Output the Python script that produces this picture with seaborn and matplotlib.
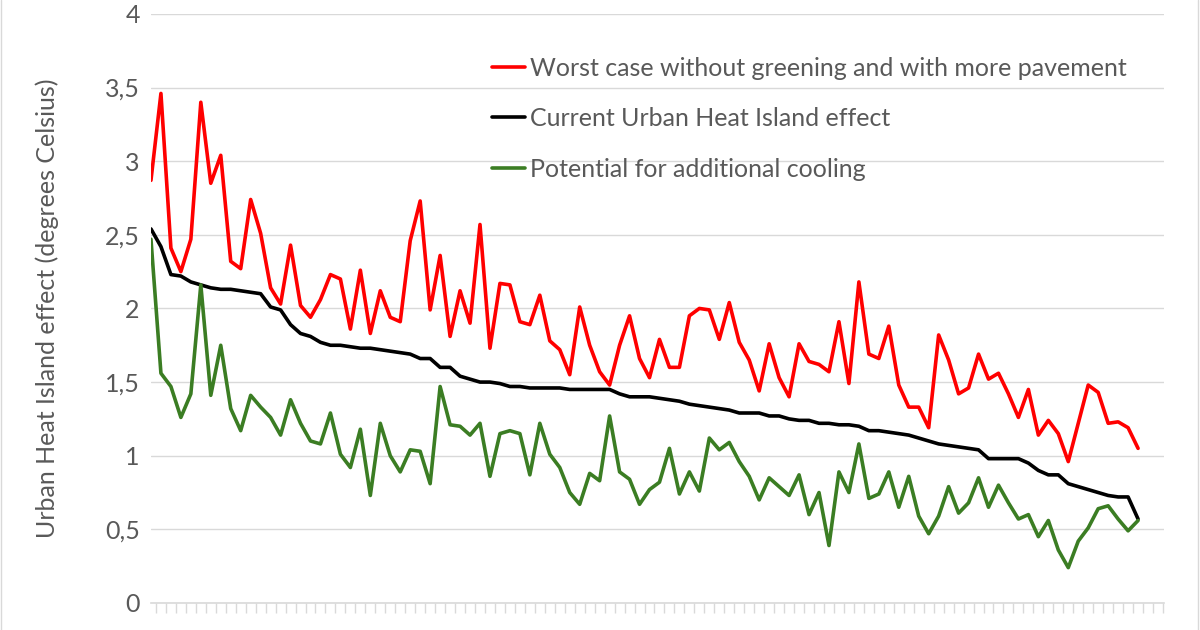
import numpy as np
import pandas as pd
import seaborn as sns
import matplotlib.pyplot as plt
from matplotlib.lines import Line2D

# waarden per wijk (100 stuks)
worst_case = [2.87, 3.46, 2.41, 2.25, 2.47, 3.40, 2.85, 3.04, 2.32, 2.27,
              2.74, 2.51, 2.14, 2.03, 2.43, 2.02, 1.94, 2.06, 2.23, 2.20,
              1.86, 2.26, 1.83, 2.12, 1.94, 1.91, 2.46, 2.73, 1.99, 2.36,
              1.81, 2.12, 1.90, 2.57, 1.73, 2.17, 2.16, 1.91, 1.89, 2.09,
              1.78, 1.72, 1.55, 2.01, 1.75, 1.57, 1.48, 1.75, 1.95, 1.66,
              1.53, 1.79, 1.60, 1.60, 1.95, 2.00, 1.99, 1.79, 2.04, 1.77,
              1.65, 1.44, 1.76, 1.53, 1.40, 1.76, 1.64, 1.62, 1.57, 1.91,
              1.49, 2.18, 1.69, 1.66, 1.88, 1.48, 1.33, 1.33, 1.19, 1.82,
              1.65, 1.42, 1.46, 1.69, 1.52, 1.56, 1.42, 1.26, 1.45, 1.14,
              1.24, 1.15, 0.96, 1.22, 1.48, 1.43, 1.22, 1.23, 1.19, 1.05]

current_uhi = [2.54, 2.42, 2.23, 2.22, 2.18, 2.16, 2.14, 2.13, 2.13, 2.12,
               2.11, 2.10, 2.01, 1.99, 1.89, 1.83, 1.81, 1.77, 1.75, 1.75,
               1.74, 1.73, 1.73, 1.72, 1.71, 1.70, 1.69, 1.66, 1.66, 1.60,
               1.60, 1.54, 1.52, 1.50, 1.50, 1.49, 1.47, 1.47, 1.46, 1.46,
               1.46, 1.46, 1.45, 1.45, 1.45, 1.45, 1.45, 1.42, 1.40, 1.40,
               1.40, 1.39, 1.38, 1.37, 1.35, 1.34, 1.33, 1.32, 1.31, 1.29,
               1.29, 1.29, 1.27, 1.27, 1.25, 1.24, 1.24, 1.22, 1.22, 1.21,
               1.21, 1.20, 1.17, 1.17, 1.16, 1.15, 1.14, 1.12, 1.10, 1.08,
               1.07, 1.06, 1.05, 1.04, 0.98, 0.98, 0.98, 0.98, 0.95, 0.90,
               0.87, 0.87, 0.81, 0.79, 0.77, 0.75, 0.73, 0.72, 0.72, 0.57]

extra_cooling = [2.47, 1.56, 1.47, 1.26, 1.42, 2.16, 1.41, 1.75, 1.32, 1.17,
                 1.41, 1.33, 1.26, 1.14, 1.38, 1.22, 1.10, 1.08, 1.29, 1.01,
                 0.92, 1.18, 0.73, 1.22, 1.00, 0.89, 1.04, 1.03, 0.81, 1.47,
                 1.21, 1.20, 1.14, 1.22, 0.86, 1.15, 1.17, 1.15, 0.87, 1.22,
                 1.01, 0.92, 0.75, 0.67, 0.88, 0.83, 1.27, 0.89, 0.84, 0.67,
                 0.77, 0.82, 1.05, 0.74, 0.89, 0.76, 1.12, 1.04, 1.09, 0.96,
                 0.86, 0.70, 0.85, 0.79, 0.73, 0.87, 0.60, 0.75, 0.39, 0.89,
                 0.75, 1.08, 0.71, 0.74, 0.89, 0.65, 0.86, 0.59, 0.47, 0.59,
                 0.79, 0.61, 0.68, 0.85, 0.65, 0.80, 0.68, 0.57, 0.60, 0.45,
                 0.56, 0.36, 0.24, 0.42, 0.51, 0.64, 0.66, 0.57, 0.49, 0.56]

series_names = ["Worst case without greening and with more pavement",
                "Current Urban Heat Island effect",
                "Potential for additional cooling"]
series_colors = ["#FF0000", "#000000", "#3B7D23"]
y_ticks = [0, 0.5, 1, 1.5, 2, 2.5, 3, 3.5, 4]
y_labels = ["0", "0,5", "1", "1,5", "2", "2,5", "3", "3,5", "4"]
x_labels = ["1", "11", "21", "31", "41", "51", "61", "71", "81", "91", "101"]

n = len(worst_case)
wijk = np.arange(1, n + 1)
df = pd.DataFrame({
    "wijk": np.tile(wijk, 3),
    "waarde": worst_case + current_uhi + extra_cooling,
    "reeks": np.repeat(series_names, n),
})

sns.set_theme(style="white")
plt.rcParams["font.family"] = ["Lato", "DejaVu Sans"]
grijs = "#595959"
fs = 18

fig = plt.figure(figsize=(12, 6.3), dpi=100)
ax = fig.add_axes([0.1258, 0.0429, 0.8442, 0.935])

sns.lineplot(data=df, x="wijk", y="waarde", hue="reeks",
             palette=dict(zip(series_names, series_colors)),
             linewidth=2.6, ax=ax, legend=False)

ax.set_xlim(1, 102.6)
ax.set_ylim(0, 4)
ax.set_yticks(y_ticks)
ax.set_yticklabels(y_labels, fontsize=fs, color=grijs)
ax.yaxis.grid(True, color="#D9D9D9", linewidth=1)
ax.tick_params(axis="y", length=0, pad=8)

# categorie-labels vallen net buiten beeld, net als in het origineel
ax.set_xticks(np.arange(1, 102, 10))
ax.set_xticklabels(x_labels, fontsize=fs, color=grijs)
ax.set_xticks(np.arange(1.5, 103, 1), minor=True)
ax.tick_params(axis="x", which="major", length=0, pad=20)
ax.tick_params(axis="x", which="minor", length=7, width=1, color="#D9D9D9",
               bottom=True)

for s in ["left", "right", "top"]:
    ax.spines[s].set_visible(False)
ax.spines["bottom"].set_color("#D9D9D9")
ax.spines["bottom"].set_linewidth(1.2)

ax.set_xlabel("")
ax.set_ylabel("Urban Heat Island effect (degrees Celsius)", fontsize=fs,
              color=grijs, labelpad=33)

handles = [Line2D([], [], color=c, linewidth=2.6) for c in series_colors]
leg = ax.legend(handles, series_names, loc="upper left",
                bbox_to_anchor=(0.4017, 0.926), bbox_transform=fig.transFigure,
                frameon=False, fontsize=fs, handlelength=1.32,
                handletextpad=0.2, labelspacing=1.1, borderaxespad=0)
for t in leg.get_texts():
    t.set_color(grijs)

# lichte rand links en rechts zoals in Excel
fig.add_artist(Line2D([0.001, 0.001], [0, 1], color="#D9D9D9", linewidth=1))
fig.add_artist(Line2D([0.998, 0.998], [0, 1], color="#D9D9D9", linewidth=1))

fig.savefig("out.png", dpi=100)
